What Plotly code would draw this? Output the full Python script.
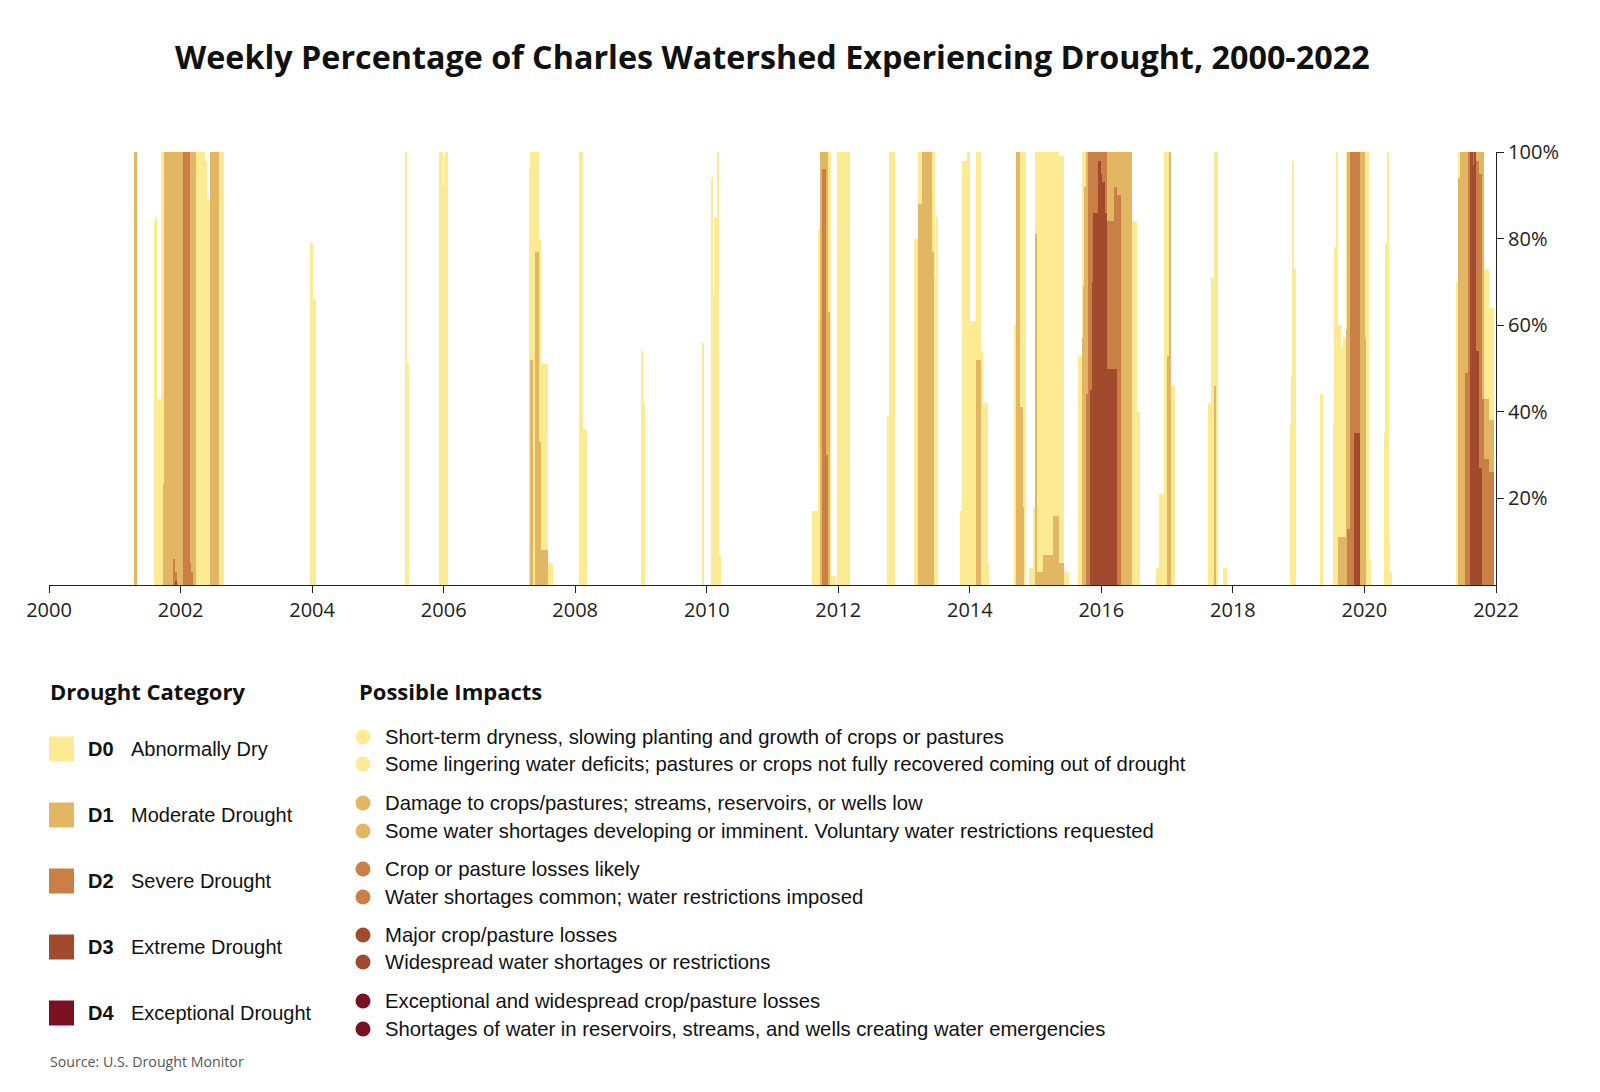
import plotly.graph_objects as go
import pandas as pd

# ---- Weekly drought runs (start of run, number of weeks, cumulative % in each category) ----
run_start = [
    "2001-04-17",
    "2001-08-08", "2001-08-15", "2001-08-22", "2001-09-12", "2001-09-26", "2001-10-03", "2001-11-21", "2001-11-28", "2001-12-12", "2002-01-16", "2002-02-20", "2002-02-27", "2002-03-13", "2002-03-27", "2002-05-15", "2002-05-29", "2002-06-12", "2002-07-31",
    "2003-12-23", "2004-01-06",
    "2005-06-01", "2005-06-08", "2005-06-15",
    "2005-12-06", "2005-12-27", "2006-01-03", "2006-01-10",
    "2007-04-20", "2007-04-27", "2007-05-11", "2007-05-25", "2007-06-15", "2007-06-22", "2007-08-03",
    "2008-01-23", "2008-02-13",
    "2009-01-06", "2009-01-13", "2009-12-10",
    "2010-01-28", "2010-02-04", "2010-02-11", "2010-02-25", "2010-03-11",
    "2011-08-08", "2011-09-12", "2011-09-19", "2011-10-03", "2011-10-24", "2011-11-07", "2011-11-14", "2011-11-21", "2011-12-26",
    "2012-10-03", "2012-10-10",
    "2013-02-27", "2013-03-20", "2013-04-10", "2013-06-05", "2013-06-12", "2013-06-19", "2013-06-26",
    "2013-11-06", "2013-11-20", "2013-12-18", "2014-01-01", "2014-02-05", "2014-03-05", "2014-03-12", "2014-04-09",
    "2014-09-03", "2014-09-17", "2014-10-08", "2014-10-22", "2014-10-29", "2014-11-26", "2014-12-17", "2014-12-31", "2015-01-07", "2015-02-11", "2015-04-08", "2015-05-13", "2015-06-10",
    "2015-08-26", "2015-09-16", "2015-09-23", "2015-09-30", "2015-10-07", "2015-10-21", "2015-11-04", "2015-11-11", "2015-11-18", "2015-12-16", "2015-12-30", "2016-01-06", "2016-01-20", "2016-02-03", "2016-03-09", "2016-03-30", "2016-04-20", "2016-06-22", "2016-07-20",
    "2016-11-02", "2016-11-16", "2016-12-14", "2017-01-04", "2017-01-11", "2017-01-18",
    "2017-08-16", "2017-08-30", "2017-09-20", "2017-09-27", "2017-11-08",
    "2018-11-14", "2018-11-21", "2018-11-28", "2018-12-05",
    "2019-05-01", "2019-07-13", "2019-07-20", "2019-07-27", "2019-08-10", "2019-08-24", "2019-09-07", "2019-09-21", "2019-09-28", "2019-10-12", "2019-11-02", "2019-12-07", "2020-01-04", "2020-01-11", "2020-01-25",
    "2020-04-22", "2020-04-29", "2020-05-06", "2020-05-13", "2020-05-20",
    "2021-05-26", "2021-06-02", "2021-06-16", "2021-07-14", "2021-07-28", "2021-08-11", "2021-08-25", "2021-09-01", "2021-09-08", "2021-09-29", "2021-10-13", "2021-10-27", "2021-11-24",
]
run_weeks = [
    2,
    1, 1, 3, 2, 1, 7, 1, 2, 5, 5, 1, 2, 2, 7, 2, 2, 7, 4,
    2, 2,
    1, 1, 1,
    3, 1, 1, 2,
    1, 2, 2, 3, 1, 6, 4,
    3, 3,
    1, 1, 1,
    1, 1, 2, 2, 1,
    5, 1, 2, 3, 2, 1, 1, 4, 10,
    1, 5,
    3, 3, 8, 1, 1, 1, 2,
    2, 4, 2, 5, 4, 1, 4, 1,
    2, 3, 2, 1, 1, 3, 2, 1, 5, 8, 5, 4, 4,
    3, 1, 1, 1, 2, 2, 1, 1, 4, 2, 1, 2, 2, 5, 3, 3, 9, 4, 2,
    2, 4, 3, 1, 1, 4,
    2, 3, 1, 2, 3,
    1, 1, 1, 2,
    2, 1, 1, 2, 2, 2, 2, 1, 2, 3, 5, 4, 1, 2, 2,
    1, 1, 1, 1, 2,
    1, 2, 4, 2, 2, 2, 1, 1, 3, 2, 2, 4, 4,
]
d0 = [
    100,
    84, 85, 43, 100, 100, 100, 100, 100, 100, 100, 100, 100, 100, 100, 98, 89, 100, 100,
    79, 66,
    100, 26, 51,
    100, 92, 99, 100,
    96, 100, 100, 100, 80, 51, 5,
    100, 36,
    54, 42, 56,
    94, 67, 85, 100, 7,
    17, 82, 100, 100, 100, 100, 100, 2, 100,
    39, 100,
    80, 100, 100, 100, 100, 71, 85,
    17, 98, 100, 61, 100, 54, 42, 5,
    60, 100, 100, 100, 100, 4, 18, 100, 100, 100, 100, 99, 3,
    53, 100, 100, 100, 100, 100, 100, 100, 100, 100, 100, 100, 100, 100, 100, 100, 100, 84, 40,
    4, 21, 100, 100, 100, 46,
    42, 71, 100, 100, 4,
    37, 48, 98, 73,
    44, 37, 78, 100, 60, 55, 57, 100, 100, 100, 100, 100, 100, 100, 6,
    35, 79, 100, 10, 3,
    70, 100, 100, 100, 100, 100, 100, 100, 100, 100, 100, 73, 64,
]
d1 = [
    100,
    0, 0, 0, 0, 23, 100, 100, 100, 100, 100, 100, 100, 100, 0, 0, 0, 100, 0,
    0, 0,
    0, 0, 0,
    0, 0, 0, 0,
    0, 52, 0, 77, 33, 8, 0,
    0, 0,
    0, 0, 0,
    0, 0, 0, 0, 0,
    0, 0, 100, 100, 100, 63, 0, 0, 0,
    0, 0,
    0, 88, 100, 77, 0, 0, 0,
    0, 0, 0, 0, 52, 0, 0, 0,
    0, 100, 41, 18, 0, 0, 0, 81, 3, 7, 16, 5, 0,
    0, 57, 69, 92, 100, 100, 100, 100, 100, 100, 100, 100, 100, 100, 100, 100, 100, 0, 0,
    0, 0, 0, 53, 100, 0,
    0, 0, 46, 0, 0,
    0, 0, 0, 0,
    0, 0, 0, 0, 11, 11, 11, 59, 100, 100, 100, 100, 57, 0, 0,
    0, 0, 0, 0, 0,
    0, 94, 100, 100, 100, 100, 100, 100, 100, 100, 100, 43, 38,
]
d2 = [
    0,
    0, 0, 0, 0, 0, 0, 6, 3, 0, 100, 5, 3, 0, 0, 0, 0, 0, 0,
    0, 0,
    0, 0, 0,
    0, 0, 0, 0,
    0, 0, 0, 0, 0, 0, 0,
    0, 0,
    0, 0, 0,
    0, 0, 0, 0, 0,
    0, 0, 0, 96, 30, 0, 0, 0, 0,
    0, 0,
    0, 0, 0, 0, 0, 0, 0,
    0, 0, 0, 0, 0, 0, 0, 0,
    0, 0, 0, 0, 0, 0, 0, 0, 0, 0, 0, 0, 0,
    0, 0, 0, 0, 44, 100, 100, 100, 100, 100, 100, 100, 100, 84, 92, 90, 0, 0, 0,
    0, 0, 0, 0, 0, 0,
    0, 0, 0, 0, 0,
    0, 0, 0, 0,
    0, 0, 0, 0, 0, 0, 0, 0, 13, 100, 100, 0, 0, 0, 0,
    0, 0, 0, 0, 0,
    0, 0, 0, 49, 100, 100, 100, 100, 98, 95, 43, 29, 26,
]
d3 = [
    0,
    0, 0, 0, 0, 0, 0, 0, 1, 0, 0, 0, 0, 0, 0, 0, 0, 0, 0,
    0, 0,
    0, 0, 0,
    0, 0, 0, 0,
    0, 0, 0, 0, 0, 0, 0,
    0, 0,
    0, 0, 0,
    0, 0, 0, 0, 0,
    0, 0, 0, 0, 0, 0, 0, 0, 0,
    0, 0,
    0, 0, 0, 0, 0, 0, 0,
    0, 0, 0, 0, 0, 0, 0, 0,
    0, 0, 0, 0, 0, 0, 0, 0, 0, 0, 0, 0, 0,
    0, 0, 0, 0, 0, 0, 45, 70, 86, 98, 95, 93, 86, 50, 50, 0, 0, 0, 0,
    0, 0, 0, 0, 0, 0,
    0, 0, 0, 0, 0,
    0, 0, 0, 0,
    0, 0, 0, 0, 0, 0, 0, 0, 0, 0, 35, 0, 0, 0, 0,
    0, 0, 0, 0, 0,
    0, 0, 0, 0, 0, 100, 97, 100, 54, 27, 0, 0, 0,
]

categories = ["D0", "D1", "D2", "D3", "D4"]
category_names = ["Abnormally Dry", "Moderate Drought", "Severe Drought", "Extreme Drought", "Exceptional Drought"]
category_colors = ["#FCEB93", "#E3B663", "#C97F45", "#A14A2D", "#7A1020"]
impacts = [
    ["Short-term dryness, slowing planting and growth of crops or pastures",
     "Some lingering water deficits; pastures or crops not fully recovered coming out of drought"],
    ["Damage to crops/pastures; streams, reservoirs, or wells low",
     "Some water shortages developing or imminent. Voluntary water restrictions requested"],
    ["Crop or pasture losses likely",
     "Water shortages common; water restrictions imposed"],
    ["Major crop/pasture losses",
     "Widespread water shortages or restrictions"],
    ["Exceptional and widespread crop/pasture losses",
     "Shortages of water in reservoirs, streams, and wells creating water emergencies"],
]
x_tick_years = list(range(2000, 2023, 2))
y_tick_vals = [20, 40, 60, 80, 100]

n = len(run_start)
assert all(len(a) == n for a in [run_weeks, d0, d1, d2, d3])

starts = pd.to_datetime(run_start)
widths = [w * 7 * 86400000 for w in run_weeks]

fig = go.Figure()
for cat, vals, col in zip(categories[:4], [d0, d1, d2, d3], category_colors[:4]):
    fig.add_trace(go.Bar(
        x=starts, y=vals, width=widths, offset=0, name=cat,
        marker=dict(color=col, line=dict(width=0)),
        showlegend=False,
    ))

W, H = 1600, 1092
L, R, T, B = 49, 104, 152, 507
PW, PH = W - L - R, H - T - B


def pxp(x):
    return (x - L) / PW


def pyp(y):
    return (H - B - y) / PH


HEAD_FONT = "'Open Sans', Lato, sans-serif"
BODY_FONT = "'Liberation Sans', Arial, sans-serif"

annotations = []
shapes = []

annotations.append(dict(
    text="<b>Weekly Percentage of Charles Watershed Experiencing Drought, 2000-2022</b>",
    x=pxp(772), y=pyp(56), xref="paper", yref="paper", xanchor="center", yanchor="middle",
    showarrow=False, font=dict(family=HEAD_FONT, size=32.3, color="#111")))

annotations.append(dict(text="<b>Drought Category</b>", x=pxp(48), y=pyp(691), xref="paper", yref="paper",
                        xanchor="left", yanchor="middle", showarrow=False,
                        font=dict(family=HEAD_FONT, size=22, color="#111")))
annotations.append(dict(text="<b>Possible Impacts</b>", x=pxp(357), y=pyp(691), xref="paper", yref="paper",
                        xanchor="left", yanchor="middle", showarrow=False,
                        font=dict(family=HEAD_FONT, size=22, color="#111")))

sq_y = [749, 815, 881, 947, 1013]
dot_y = [(737, 764), (803, 831), (869, 897), (935, 962), (1001, 1029)]
for i in range(5):
    cy = sq_y[i]
    shapes.append(dict(type="rect", xref="paper", yref="paper",
                       x0=pxp(49), x1=pxp(74), y0=pyp(cy + 12.5), y1=pyp(cy - 12.5),
                       fillcolor=category_colors[i], line=dict(width=0)))
    annotations.append(dict(text="<b>" + categories[i] + "</b>", x=pxp(86), y=pyp(cy), xref="paper", yref="paper",
                            xanchor="left", yanchor="middle", showarrow=False,
                            font=dict(family=BODY_FONT, size=20, color="#111")))
    annotations.append(dict(text=category_names[i], x=pxp(129), y=pyp(cy), xref="paper", yref="paper",
                            xanchor="left", yanchor="middle", showarrow=False,
                            font=dict(family=BODY_FONT, size=20, color="#111")))
    for j in range(2):
        dy = dot_y[i][j]
        r = 7.5
        shapes.append(dict(type="circle", xref="paper", yref="paper",
                           x0=pxp(363 - r), x1=pxp(363 + r), y0=pyp(dy + r), y1=pyp(dy - r),
                           fillcolor=category_colors[i], line=dict(width=0)))
        annotations.append(dict(text=impacts[i][j], x=pxp(383), y=pyp(dy), xref="paper", yref="paper",
                                xanchor="left", yanchor="middle", showarrow=False,
                                font=dict(family=BODY_FONT, size=20.3, color="#111")))

annotations.append(dict(text="Source: U.S. Drought Monitor", x=pxp(48), y=pyp(1061), xref="paper", yref="paper",
                        xanchor="left", yanchor="middle", showarrow=False,
                        font=dict(family=HEAD_FONT, size=14.2, color="#555")))

fig.update_layout(
    width=W, height=H,
    margin=dict(l=L, r=R, t=T, b=B),
    paper_bgcolor="white", plot_bgcolor="white",
    barmode="overlay", bargap=0,
    annotations=annotations, shapes=shapes,
    xaxis=dict(
        type="date", range=["2000-01-01", "2022-01-01"],
        tickvals=[f"{y}-01-01" for y in x_tick_years], ticktext=[str(y) for y in x_tick_years],
        ticks="outside", ticklen=7, tickcolor="#222", showline=True, linecolor="#222", linewidth=1.2,
        showgrid=False, zeroline=False,
        tickfont=dict(family=HEAD_FONT, size=20, color="#222"),
    ),
    yaxis=dict(
        side="right", range=[0, 100],
        tickvals=y_tick_vals, ticktext=[f"{v}%" for v in y_tick_vals],
        ticks="outside", ticklen=7, tickcolor="#222", showline=True, linecolor="#222", linewidth=1.2,
        showgrid=False, zeroline=False,
        tickfont=dict(family=HEAD_FONT, size=20, color="#222"),
    ),
)

fig.write_html("out.html")
